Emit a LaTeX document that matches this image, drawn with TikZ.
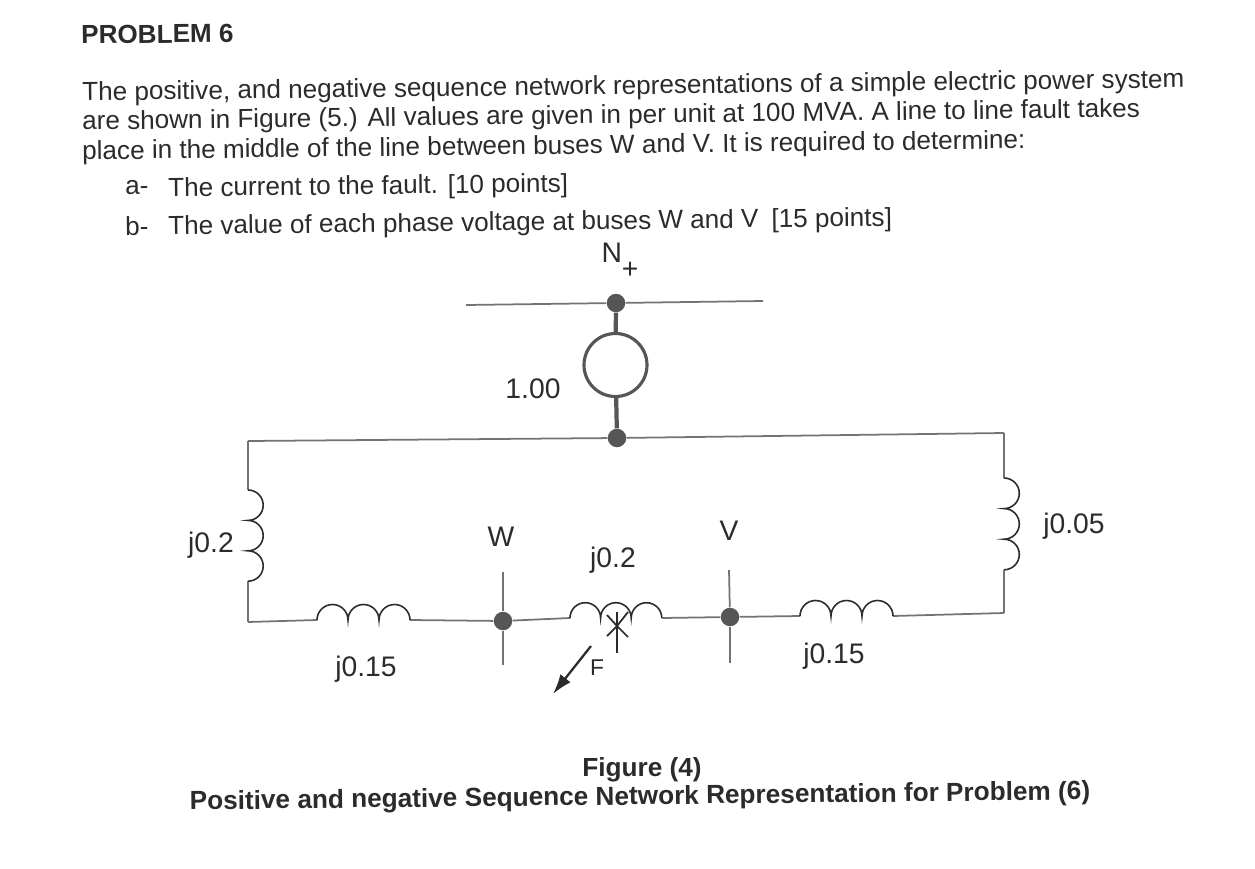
\documentclass[tikz,border=0pt]{standalone}
\usepackage{fontspec}
\setmainfont{Liberation Sans}
\usetikzlibrary{arrows.meta}
\definecolor{scanink}{gray}{0.17}
\definecolor{wireink}{gray}{0.45}

\begin{document}
\begin{tikzpicture}[x=0.02cm,y=-0.02cm,inner sep=0pt]
    \tikzset{txt/.style={anchor=west,text=scanink,font=\fontsize{14.85}{16}\selectfont,rotate=0.68}};
    \tikzset{lbl/.style={text=scanink,font=\fontsize{16.1}{18}\selectfont}};
    \tikzset{capt/.style={text=scanink,font=\bfseries\fontsize{14.9}{16}\selectfont}};
    \tikzset{wire/.style={draw=wireink,line width=1pt}};
    \tikzset{stem/.style={draw=scanink!80,line width=2.4pt}};
    \tikzset{bus/.style={circle,fill=scanink!80!white,minimum size=0.37cm}};
    \tikzset{coil/.style={draw=scanink,line width=0.9pt}};

    \useasboundingbox (0,0) rectangle (1255,869);

    \node [txt,font=\bfseries\fontsize{14.85}{16}\selectfont] (title) at (81,35) {PROBLEM 6};
    \node [txt] (para1) at (82,94) {The positive, and negative sequence network representations of a simple electric power system};
    \node [txt] (para2) at (82,123) {are shown in Figure (5.) All values are given in per unit at 100 MVA. A line to line fault takes};
    \node [txt] (para3) at (82,153) {place in the middle of the line between buses W and V. It is required to determine:};
    \node [txt] (itema) at (125,188) {a-};
    \node [txt] (texta) at (168,190) {The current to the fault. [10 points]};
    \node [txt] (itemb) at (125,226) {b-};
    \node [txt] (textb) at (168,228) {The value of each phase voltage at buses W and V\hspace{0.5em}[15 points]};

    \node [lbl] (nplus) at (620,261) {N\raisebox{-1.1ex}{+}};
    \node [lbl] (emf) at (533,389) {1.00};
    \node [lbl] (zl) at (211,545) {j0.2};
    \node [lbl] (zr) at (1074,526) {j0.05};
    \node [lbl] (w) at (501,537) {W};
    \node [lbl] (v) at (729,531) {V};
    \node [lbl] (zwv) at (613,560) {j0.2};
    \node [lbl] (zwl) at (366,669) {j0.15};
    \node [lbl] (zvr) at (834,656) {j0.15};
    \node [lbl,font=\fontsize{13}{14}\selectfont] (fname) at (597,668) {F};
    \node [capt] (figno) at (642,770) {Figure (4)};
    \node [capt,rotate=0.64] (figcap) at (640,798) {Positive and negative Sequence Network Representation for Problem (6)};

    % buses
    \node [bus] (n) at (616,303) {};
    \node [bus] (s) at (617,438) {};
    \node [bus] (bw) at (503,621) {};
    \node [bus] (bv) at (730,617) {};
    \node [circle,draw=scanink!80,line width=1.8pt,minimum size=1.26cm] (gen) at (615.5,365) {};

    % corners and ends
    \coordinate (tl) at (466,305);
    \coordinate (tr) at (763,301);
    \coordinate (ul) at (248,441);
    \coordinate (ur) at (1004,433);
    \coordinate (ll) at (248,622);
    \coordinate (lr) at (1004,613);
    \coordinate (la) at (248,490);
    \coordinate (lb) at (248,581);
    \coordinate (ra) at (1004,478);
    \coordinate (rb) at (1004,570);
    \coordinate (ca) at (317,620);
    \coordinate (cb) at (410,620);
    \coordinate (da) at (570,618);
    \coordinate (db) at (662,618);
    \coordinate (ea) at (800,616);
    \coordinate (eb) at (893,616);

    \draw [wire] (tl) -- (n);
    \draw [wire] (n) -- (tr);
    \draw [stem] (n) -- (gen);
    \draw [stem] (gen) -- (s);
    \draw [wire] (ul) -- (s);
    \draw [wire] (s) -- (ur);
    \draw [wire] (ul) -- (la);
    \draw [wire] (lb) -- (ll);
    \draw [wire] (ur) -- (ra);
    \draw [wire] (rb) -- (lr);
    \draw [wire] (ll) -- (ca);
    \draw [wire] (cb) -- (bw);
    \draw [wire] (bw) -- (da);
    \draw [wire] (db) -- (bv);
    \draw [wire] (bv) -- (ea);
    \draw [wire] (eb) -- (lr);

    % coils
    \draw [coil] (ca) arc (180:360:15.5) arc (180:360:15.5) arc (180:360:15.5);
    \draw [coil] (da) arc (180:360:15.3) arc (180:360:15.3) arc (180:360:15.3);
    \draw [coil] (ea) arc (180:360:15.5) arc (180:360:15.5) arc (180:360:15.5);
    \draw [coil] (la) arc (-90:90:15.2) arc (-90:90:15.2) arc (-90:90:15.2);
    \draw [coil] (ra) arc (-90:90:15.3) arc (-90:90:15.3) arc (-90:90:15.3);

    % bus bars
    \draw [wire] (503,572) -- (bw);
    \draw [wire] (bw) -- (503,665);
    \draw [wire] (729,570) -- (bv);
    \draw [wire] (bv) -- (730,663);

    % fault
    \coordinate (fc) at (617,626);
    \draw [wire,draw=scanink] (617,612) -- (fc);
    \draw [wire,draw=scanink] (fc) -- (617,653);
    \draw [wire,draw=scanink] (607,615) -- (fc);
    \draw [wire,draw=scanink] (fc) -- (628,637);
    \draw [wire,draw=scanink] (628,612) -- (fc);
    \draw [wire,draw=scanink] (fc) -- (607,636);
    \coordinate (fa) at (591,646);
    \coordinate (fb) at (553,694);
    \draw [-{Latex[length=4mm,width=2.6mm]},line width=1.3pt,draw=scanink] (fa) -- (fb);
\end{tikzpicture}
\end{document}
